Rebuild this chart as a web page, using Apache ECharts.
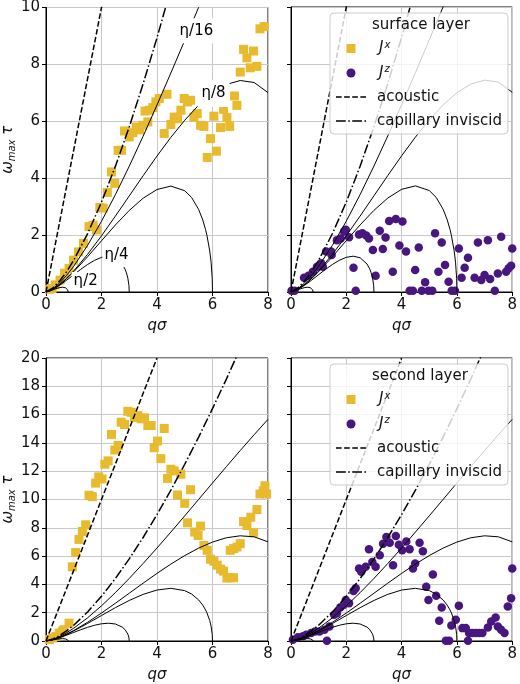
<!DOCTYPE html>
<html><head><meta charset="utf-8">
<script src="https://cdn.jsdelivr.net/npm/echarts@6.0.0/dist/echarts.min.js"></script>
<style>html,body{margin:0;padding:0;background:#fff}#c{width:520px;height:684px}</style>
</head><body><div id="c"></div>
<script>
// ---- data ----
const xTicks = [0, 2, 4, 6, 8];
const yMaxTop = 10, yMaxBottom = 20;

// theory curves (q, omega*tau)
const acoustic = [[0,0],[4,20]];
const capillaryInviscid = [[0,0],[0.25,0.14],[0.5,0.395],[0.75,0.725],[1,1.117],[1.5,2.052],[2,3.159],[2.5,4.415],[3,5.804],[3.5,7.314],[4,8.936],[4.5,10.66],[5,12.49],[5.5,14.41],[6,16.42],[6.5,18.51],[7,20.69]];
const etaOver16 = [[0,0],[0.25,0.116],[0.5,0.325],[0.75,0.593],[1,0.906],[1.5,1.64],[2,2.486],[2.5,3.419],[3,4.421],[3.5,5.476],[4,6.572],[4.5,7.698],[5,8.846],[5.5,10.004],[6,11.165],[6.5,12.319],[7,13.459],[7.5,14.578],[8,15.665]];
const etaOver8 = [[0,0],[0.25,0.097],[0.5,0.27],[0.75,0.49],[1,0.743],[1.5,1.325],[2,1.975],[2.5,2.666],[3,3.376],[3.5,4.086],[4,4.779],[4.5,5.436],[5,6.037],[5.5,6.565],[6,6.993],[6.5,7.295],[7,7.434],[7.5,7.364],[8,7.008]];
const archSix = [[0,0],[0.25,0.095],[0.5,0.264],[0.75,0.474],[1,0.712],[1.5,1.241],[2,1.801],[2.5,2.355],[3,2.866],[3.5,3.296],[4,3.603],[4.5,3.723],[5,3.56],[5.25,3.318],[5.5,2.904],[5.65,2.53],[5.75,2.195],[5.8,1.99],[5.9,1.444],[5.95,1.046],[5.99,0.468],[6,0]];
const etaOver4 = [[0,0],[0.25,0.089],[0.5,0.24],[0.75,0.419],[1,0.608],[1.25,0.795],[1.5,0.968],[1.75,1.113],[2,1.217],[2.25,1.257],[2.5,1.202],[2.75,0.981],[2.85,0.8],[2.9,0.67],[2.95,0.487],[2.99,0.22],[3,0]];
const etaOver2 = [[0,0],[0.1,0.021],[0.2,0.056],[0.3,0.094],[0.4,0.129],[0.5,0.156],[0.6,0.167],[0.7,0.149],[0.75,0.117],[0.78,0.078],[0.795,0.04],[0.8,0]];

// curve labels [q, omega, text] (top-left panel)
const curveLabels = [[5.42,9.18,'η/16'],[6.04,6.98,'η/8'],[2.54,1.28,'η/4'],[1.43,0.37,'η/2']];

// measured spectra
const surfaceJx = [[0.12,0.1],[0.22,0.12],[0.33,0.25],[0.51,0.42],[0.67,0.66],[0.83,0.83],[0.99,1.12],[1.17,1.41],[1.35,1.71],[1.55,2.3],[1.7,2.35],[1.82,2.18],[1.94,2.97],[2.06,2.95],[2.21,3.5],[2.36,4.22],[2.48,3.82],[2.6,4.98],[2.72,4.98],[2.83,5.66],[3.0,5.45],[3.13,5.6],[3.25,5.8],[3.37,5.7],[3.49,5.86],[3.57,6.36],[3.67,5.98],[3.73,6.39],[3.85,6.48],[3.96,6.68],[4.08,6.8],[4.26,5.57],[4.36,6.95],[4.5,5.89],[4.62,6.15],[4.74,6.09],[4.86,6.39],[4.98,6.8],[5.1,6.68],[5.21,6.74],[5.33,6.15],[5.45,6.27],[5.57,5.86],[5.69,5.82],[5.81,4.73],[5.93,5.39],[6.05,6.18],[6.14,4.95],[6.29,5.78],[6.4,6.42],[6.52,6.13],[6.62,5.82],[6.79,6.89],[6.88,6.56],[7.0,7.73],[7.12,8.53],[7.24,8.23],[7.36,7.88],[7.48,8.47],[7.6,7.93],[7.71,9.25],[7.86,9.33]];
const surfaceJz = [[0.02,0.04],[0.13,0.04],[0.47,0.5],[0.63,0.57],[0.79,0.71],[0.94,0.89],[1.09,1.01],[1.15,0.89],[1.27,1.42],[1.45,1.42],[1.47,1.3],[1.66,1.82],[1.8,1.88],[1.92,2.12],[1.98,2.18],[2.1,1.92],[2.26,0.85],[2.34,0.04],[2.46,2.02],[2.58,2.06],[2.72,1.98],[2.82,1.88],[2.96,1.47],[3.06,0.57],[3.21,2.15],[3.32,1.51],[3.42,1.91],[3.55,2.49],[3.68,0.71],[3.79,2.56],[3.92,1.63],[4.03,2.47],[4.16,1.42],[4.29,0.04],[4.41,0.04],[4.49,0.77],[4.62,1.56],[4.73,0.04],[4.85,0.34],[4.97,0.04],[5.11,0.04],[5.21,2.06],[5.33,0.71],[5.45,1.74],[5.57,0.95],[5.7,0.36],[5.81,0.04],[5.93,0.04],[6.07,1.53],[6.17,0.5],[6.28,0.85],[6.4,1.2],[6.64,0.5],[6.76,1.74],[6.88,0.42],[7.0,0.6],[7.12,1.82],[7.2,0.46],[7.37,0.04],[7.48,0.65],[7.6,1.94],[7.78,0.71],[7.87,0.83],[7.96,0.92],[8.0,1.53]];
const secondJx = [[0.12,0.1],[0.24,0.21],[0.36,0.33],[0.48,0.56],[0.6,0.7],[0.65,0.8],[0.83,1.26],[0.95,5.24],[1.07,6.25],[1.19,7.18],[1.31,7.74],[1.43,8.21],[1.55,10.3],[1.67,10.2],[1.79,11.16],[1.9,11.6],[2.02,11.45],[2.12,12.49],[2.24,12.73],[2.36,14.6],[2.48,13.5],[2.6,13.82],[2.71,15.46],[2.83,15.3],[2.95,16.23],[3.07,16.16],[3.19,15.8],[3.31,15.93],[3.43,15.7],[3.55,15.77],[3.67,15.23],[3.79,15.23],[3.9,13.66],[4.02,14.13],[4.14,12.89],[4.26,15.02],[4.38,11.49],[4.5,12.14],[4.62,12.02],[4.74,10.32],[4.86,11.79],[5.0,9.73],[5.1,8.35],[5.21,10.69],[5.36,7.7],[5.48,7.46],[5.57,8.12],[5.69,6.76],[5.81,6.41],[5.93,5.78],[6.05,5.64],[6.17,5.36],[6.29,5.08],[6.4,4.94],[6.52,4.45],[6.64,4.47],[6.76,4.47],[6.64,6.41],[6.76,6.53],[6.88,6.64],[7.0,6.88],[7.12,8.44],[7.24,8.16],[7.38,8.75],[7.48,7.65],[7.6,9.29],[7.71,10.39],[7.83,10.62],[7.89,10.97],[7.95,10.39]];
const secondJz = [[0.07,0.09],[0.25,0.26],[0.43,0.33],[0.55,0.44],[0.73,0.56],[0.87,0.68],[1.03,0.68],[1.21,0.8],[1.3,0.02],[1.39,1.03],[1.56,1.85],[1.66,1.96],[1.78,2.36],[1.9,2.55],[1.98,2.9],[2.1,2.67],[2.26,3.53],[2.34,3.72],[2.46,5.12],[2.54,4.89],[2.7,5.24],[2.82,6.48],[2.94,5.59],[3.06,5.24],[3.21,6.06],[3.33,6.88],[3.45,7.35],[3.57,6.95],[3.69,5.36],[3.79,7.42],[3.9,6.81],[4.02,6.41],[4.17,7.04],[4.29,6.48],[4.41,5.12],[4.49,5.47],[4.65,6.95],[4.77,6.34],[4.89,3.84],[4.97,2.9],[5.13,4.7],[5.25,3.2],[5.36,1.43],[5.45,2.36],[5.6,0.02],[5.72,0.02],[5.8,1.1],[5.96,1.5],[6.07,2.5],[6.2,0.91],[6.32,0.91],[6.4,0.02],[6.44,0.56],[6.56,0.56],[6.68,0.56],[6.8,0.56],[6.92,0.56],[7.12,0.96],[7.24,1.38],[7.4,1.66],[7.48,1.03],[7.6,0.8],[7.72,0.56],[7.84,2.43],[7.96,3.02],[8.0,5.12]];

const legendNames = ['Jx','Jz','acoustic','capillary inviscid'];
const legendTitles = ['surface layer','second layer'];

// ---- styling ----
const FONT = 'DejaVu Sans';
const YELLOW = '#e8ba2e', PURPLE = '#48167f';
const DASH = [5.55, 2.4], DASHDOT = [9.6, 2.4, 1.5, 2.4];
const grids = [
  {left:44, top:7, width:224, height:285},
  {left:291, top:7, width:223, height:285},
  {left:44, top:358, width:224, height:285},
  {left:291, top:358, width:223, height:285}
];
const panelData = [
  {name:'Jx', data:surfaceJx, symbol:'rect', color:YELLOW, size:9},
  {name:'Jz', data:surfaceJz, symbol:'circle', color:PURPLE, size:8.5},
  {name:'Jx', data:secondJx, symbol:'rect', color:YELLOW, size:9},
  {name:'Jz', data:secondJz, symbol:'circle', color:PURPLE, size:8.5}
];

const xAxes = [], yAxes = [], series = [];
grids.forEach((g, i) => {
  const isLeft = i % 2 === 0;
  xAxes.push({
    gridIndex:i, type:'value', min:xTicks[0], max:xTicks[xTicks.length-1], interval:2,
    axisLine:{show:true, onZero:false, lineStyle:{color:'#000', width:1}},
    axisTick:{show:true, inside:false, length:4, lineStyle:{color:'#000', width:1}},
    axisLabel:{show:true, color:'#111', fontSize:15, fontFamily:FONT, margin:6, showMinLabel:true, showMaxLabel:true},
    splitLine:{show:true, lineStyle:{color:'#c8c8c8', width:1}},
    name:'qσ', nameLocation:'middle', nameGap:27,
    nameTextStyle:{fontStyle:'italic', fontSize:15, fontFamily:FONT, color:'#111'}
  });
  yAxes.push({
    gridIndex:i, type:'value', min:0, max: i < 2 ? yMaxTop : yMaxBottom, interval:2,
    axisLine:{show:true, onZero:false, lineStyle:{color:'#000', width:1}},
    axisTick:{show:true, inside:false, length:4, lineStyle:{color:'#000', width:1}},
    axisLabel:{show:isLeft, color:'#111', fontSize:15, fontFamily:FONT, margin:6, showMinLabel:true, showMaxLabel:true},
    splitLine:{show:true, lineStyle:{color:'#c8c8c8', width:1}},
    name: isLeft ? '{w|ω}{s|max}{t| τ}' : '', nameLocation:'middle', nameGap:19,
    nameTextStyle:{color:'#111', fontFamily:FONT, rich:{
      w:{fontSize:15, fontStyle:'italic', fontFamily:FONT, color:'#111'},
      s:{fontSize:10, fontStyle:'italic', fontFamily:FONT, color:'#111', padding:[7,0,0,0]},
      t:{fontSize:15, fontStyle:'italic', fontFamily:FONT, color:'#111'}
    }}
  });
  const pd = panelData[i];
  series.push({
    type:'scatter', name:pd.name, xAxisIndex:i, yAxisIndex:i, data:pd.data,
    symbol:pd.symbol, symbolSize:pd.size, itemStyle:{color:pd.color, opacity:1}, z:2, silent:true
  });
  const lineDefs = [
    {name:'acoustic', data:acoustic, type:DASH, width:1.5},
    {name:'capillary inviscid', data:capillaryInviscid, type:DASHDOT, width:1.5},
    {name:'η/16', data:etaOver16, type:'solid', width:1},
    {name:'η/8', data:etaOver8, type:'solid', width:1},
    {name:'arch6', data:archSix, type:'solid', width:1},
    {name:'η/4', data:etaOver4, type:'solid', width:1},
    {name:'η/2', data:etaOver2, type:'solid', width:1}
  ];
  lineDefs.forEach(ld => series.push({
    type:'line', name:ld.name, xAxisIndex:i, yAxisIndex:i, data:ld.data,
    showSymbol:false, symbol:'none', smooth:false, clip:true, z:3, silent:true,
    itemStyle:{color:'#000'},
    lineStyle:{color:'#000', width:ld.width, type:ld.type}
  }));
});
series.push({
  type:'scatter', name:'curve labels', xAxisIndex:0, yAxisIndex:0, z:4, silent:true,
  data:curveLabels.map(c => ({value:[c[0], c[1]], name:c[2],
    label:{padding: c[2]==='η/16' ? [5,2] : c[2]==='η/8' ? [6,4] : c[2]==='η/4' ? [4,2] : [2,2]}})),
  symbolSize:1, itemStyle:{color:'rgba(0,0,0,0)'},
  label:{show:true, position:[0.5,0.5], align:'center', verticalAlign:'middle',
    formatter:p => p.name, color:'#000', opacity:1, textBorderWidth:0, fontSize:15, fontFamily:FONT,
    backgroundColor:'#fff'}
});

// legend handle icons (square marker, circle marker, dashed and dash-dot lines)
const iconSquare = 'path://M0,0h10v10h-10z';
const iconDash = 'path://M0,0h5.55v1.5h-5.55z M7.95,0h5.55v1.5h-5.55z M15.9,0h5.55v1.5h-5.55z M23.85,0h5.55v1.5h-5.55z';
const iconDashDot = 'path://M0,0h9.6v1.5h-9.6z M12,0h1.5v1.5h-1.5z M15.9,0h9.6v1.5h-9.6z M27.9,0h1.5v1.5h-1.5z';
const legendIcons = [iconSquare, 'circle', iconDash, iconDashDot];

const legendTops = [13, 364];
const legends = legendTops.map(t => ({
  left:330, top:t, orient:'vertical',
  data: legendNames.map((n, k) => ({name:n, icon:legendIcons[k]})),
  padding:[27,6,5,6], itemGap:8, itemWidth:30, itemHeight:9,
  backgroundColor:'rgba(255,255,255,0.8)', borderColor:'#cccccc', borderWidth:1, borderRadius:4,
  selectedMode:false,
  formatter: n => n === 'Jx' ? '{j|J}{s|x}' : n === 'Jz' ? '{j|J}{s|z}' : '{n|' + n + '}',
  textStyle:{color:'#111', fontFamily:FONT, fontSize:15, lineHeight:16, rich:{
    j:{fontSize:15, fontStyle:'italic', fontFamily:FONT, color:'#111', padding:[0,0,0,8], lineHeight:16},
    s:{fontSize:10, fontStyle:'italic', fontFamily:FONT, color:'#111', padding:[0,0,7,1]},
    n:{fontSize:15, fontFamily:FONT, color:'#111', padding:[0,0,0,6], lineHeight:16}
  }}
}));
const titles = legendTitles.map((txt, k) => ({
  text: txt, left:372, top: k === 0 ? 18 : 369, padding:0,
  textStyle:{fontSize:15, fontWeight:'normal', fontFamily:FONT, color:'#111'}
}));

const chart = echarts.init(document.getElementById('c'), null, {renderer:'canvas'});
chart.setOption({
  backgroundColor:'#fff', animation:false,
  title: titles,
  legend: legends,
  grid: grids.map(g => Object.assign({show:true, borderColor:'#000', borderWidth:1, backgroundColor:'transparent'}, g)),
  xAxis: xAxes, yAxis: yAxes, series: series
});
</script></body></html>
